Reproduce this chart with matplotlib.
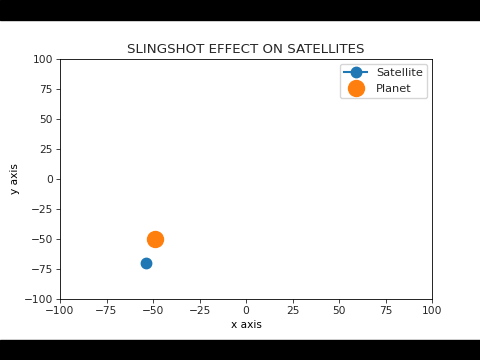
import matplotlib
matplotlib.use("Agg")
import matplotlib.pyplot as plt
from matplotlib.patches import Rectangle

# positions
satellite_x = [-54]
satellite_y = [-70]
planet_x = [-49]
planet_y = [-50]
x_ticks = [-100, -75, -50, -25, 0, 25, 50, 75, 100]
y_ticks = [-100, -75, -50, -25, 0, 25, 50, 75, 100]

plt.rcParams.update({"font.family": "DejaVu Sans", "font.size": 7.7,
                     "text.color": "#262626", "xtick.color": "#262626",
                     "ytick.color": "#262626"})

fig = plt.figure(figsize=(4.8, 3.6), dpi=100)
fig.patch.set_facecolor("white")

# letterbox bars from the video frame
fig.add_artist(Rectangle((0, 0), 1, 20 / 360, transform=fig.transFigure,
                         color="black", zorder=0))
fig.add_artist(Rectangle((0, 340 / 360), 1, 20 / 360, transform=fig.transFigure,
                         color="black", zorder=0))

ax = fig.add_axes([0.125, 61 / 360, 0.775, 240 / 360])
ax.plot(satellite_x, satellite_y, "o-", color="#1f77b4", markersize=7.5,
        label="Satellite")
ax.plot(planet_x, planet_y, "o", color="#ff7f0e", markersize=11.5,
        label="Planet")

ax.set_xlim(-100, 100)
ax.set_ylim(-100, 100)
ax.set_xticks(x_ticks)
ax.set_yticks(y_ticks)
ax.tick_params(length=2.6, width=0.6, pad=2.5)
for s in ax.spines.values():
    s.set_linewidth(0.6)
ax.set_title("SLINGSHOT EFFECT ON SATELLITES", fontsize=9.6, pad=4.5)
ax.set_xlabel("x axis", labelpad=2.5)
ax.set_ylabel("y axis", labelpad=2.5)
ax.legend(loc="upper right", fontsize=8.2, borderaxespad=0.4)

fig.savefig("out.png", dpi=100, facecolor="white")
